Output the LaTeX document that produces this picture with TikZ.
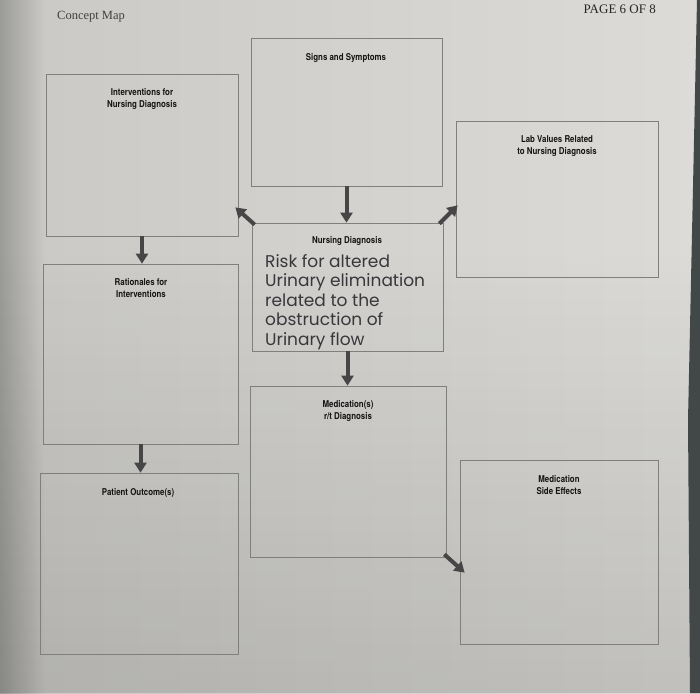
\documentclass[tikz,border=0pt]{standalone}
\usepackage{fontspec}
\setmainfont{Liberation Serif}
\newfontfamily\labfont[FakeStretch=0.84]{TeX Gyre Heros}
\newfontfamily\handfont{Poppins}
\usetikzlibrary{arrows.meta,fadings,calc,fit}
\definecolor{paperL}{RGB}{220,219,215}
\definecolor{paperM}{RGB}{203,202,198}
\definecolor{paperD}{RGB}{155,155,152}
\definecolor{boxline}{RGB}{128,127,124}
\definecolor{arrowc}{RGB}{70,70,70}
\definecolor{inkc}{RGB}{55,55,60}
\definecolor{stripc}{RGB}{66,72,72}
\begin{document}
\begin{tikzpicture}[x=1pt,y=-1pt,
  box/.style={draw=boxline, line width=0.7pt, inner sep=0pt},
  ttl/.style={font=\labfont\bfseries\fontsize{9.4}{12.2}\selectfont, text=black!92, align=center, inner sep=0pt},
  hand/.style={font=\handfont\fontsize{17}{19.5}\selectfont, text=inkc, align=left, inner sep=0pt},
  hdr/.style={font=\fontsize{12.5}{14}\selectfont, inner sep=0pt},
  arr/.style={draw=arrowc, line width=4pt, -{Triangle[width=12pt,length=10pt]}}]
\useasboundingbox (0,0) rectangle (700,693);
% paper
\fill[paperM] (0,0) rectangle (700,693);
\shade[left color=paperD, right color=paperM] (0,0) rectangle (45,693);
\shade[left color=paperM, right color=paperL] (45,0) rectangle (700,693);
\fill[black, fill opacity=0.12, path fading=north] (0,250) rectangle (700,693);
\fill[stripc] (697,0) -- (700,0) -- (700,693) -- (690,693) -- (688,420) -- cycle;
% header
\node[hdr, text=black!75, anchor=west] (cm) at (57,17) {Concept Map};
\node[hdr, text=black!85, font=\fontsize{13}{14}\selectfont, anchor=east] (pg) at (656,9) {PAGE 6 OF 8};
% boxes
\node[box, fit={(46,74) (238,236)}] (int) {};
\node[box, fit={(251,38) (442,186)}] (signs) {};
\node[box, fit={(456,121) (658,277)}] (lab) {};
\node[box, fit={(252,223) (443,351)}] (nd) {};
\node[box, fit={(43,264) (238,444)}] (rat) {};
\node[box, fit={(250,386) (446,557)}] (med) {};
\node[box, fit={(40,473) (238,654)}] (pat) {};
\node[box, fit={(460,460) (658,644)}] (se) {};
% titles
\node[ttl] (intT) at (142,99) {Interventions for\\Nursing Diagnosis};
\node[ttl] (signsT) at (346,58) {Signs and Symptoms};
\node[ttl] (labT) at (557,146) {Lab Values Related\\to Nursing Diagnosis};
\node[ttl] (ndT) at (347,241) {Nursing Diagnosis};
\node[ttl] (ratT) at (141,288) {Rationales for\\Interventions};
\node[ttl] (medT) at (348,411) {Medication(s)\\r/t Diagnosis};
\node[ttl] (patT) at (138,493) {Patient Outcome(s)};
\node[ttl] (seT) at (559,485) {Medication\\Side Effects};
% handwriting
\node[hand, anchor=north west] (ndtext) at (265,254) {Risk for altered\\Urinary elimination\\related to the\\obstruction of\\Urinary flow};
% arrows
\draw[arr] (signs.south) -- (signs.south |- nd.north);
\draw[arr] (int.south) -- (int.south |- rat.north);
\draw[arr] (rat.south) -- (rat.south |- pat.north);
\draw[arr] (nd.south) -- (nd.south |- med.north);
\draw[arr] ($(nd.north west)+(3,2)$) -- ($(int.south east)+(-3,-29)$);
\draw[arr] ($(nd.north east)+(-4,1)$) -- ($(lab.south west)+(2,-72)$);
\draw[arr] ($(med.south east)+(-2,-3)$) -- ($(se.north west)+(5,113)$);
\end{tikzpicture}
\end{document}
